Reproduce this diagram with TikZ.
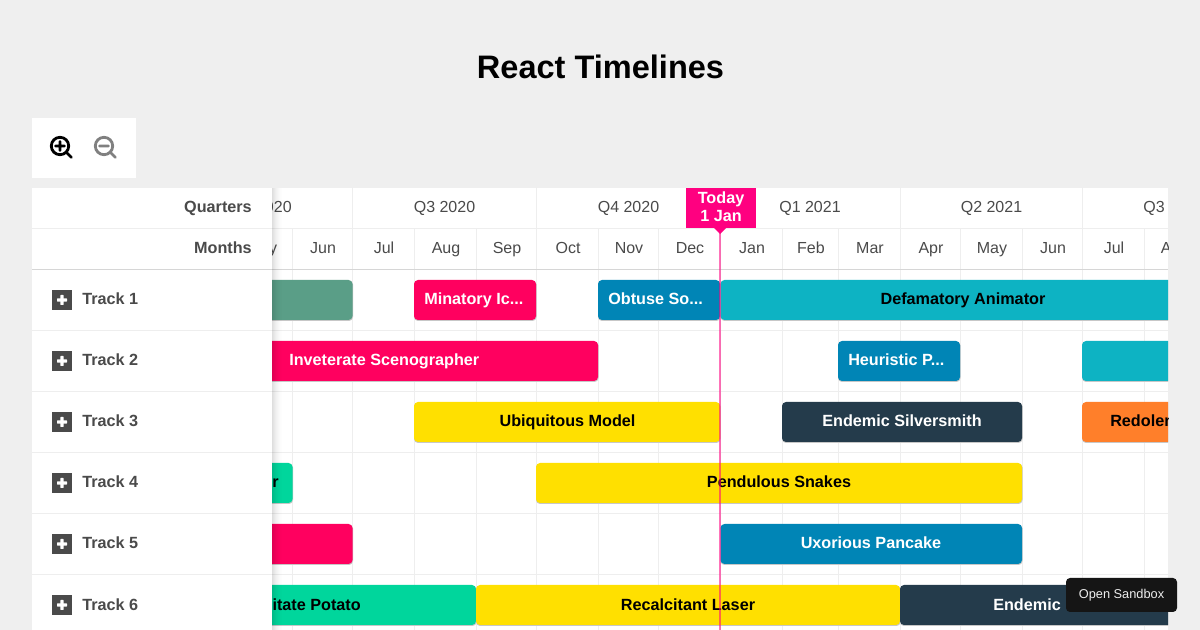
\documentclass[tikz,border=0pt]{standalone}
\usepackage{fontspec}
\setmainfont{Liberation Sans}
\definecolor{pagebg}{HTML}{EFEFEF}
\definecolor{gridc}{HTML}{EEEEEE}
\definecolor{headline}{HTML}{D6D6D6}
\definecolor{labelc}{HTML}{4A4A4A}
\definecolor{pinkbar}{HTML}{FF005F}
\definecolor{bluebar}{HTML}{0085B6}
\definecolor{tealbar}{HTML}{0DB3C3}
\definecolor{sagebar}{HTML}{5A9E87}
\definecolor{darkbar}{HTML}{243B4B}
\definecolor{orangebar}{HTML}{FF7F2A}
\definecolor{yellowbar}{HTML}{FFE000}
\definecolor{greenbar}{HTML}{00D69C}
\definecolor{todayc}{HTML}{FF0080}
\definecolor{sandboxc}{HTML}{151515}
\tikzset{
  hdrtext/.style={anchor=base,inner sep=0pt,text=labelc,font=\fontsize{12}{14}\selectfont},
  sidetext/.style={inner sep=0pt,text=labelc,font=\fontsize{12.15}{14}\selectfont\bfseries},
  bartext/.style={anchor=base,inner sep=0pt,font=\fontsize{12.15}{14}\selectfont\bfseries},
  gridline/.style={draw=gridc,line width=0.75pt},
  zoomicon/.style={line width=2.1pt,line cap=round},
}
% x1, x2, top y, fill
\newcommand{\timebar}[4]{%
  \fill[black!22,rounded corners=3pt] (#1,#3+0.5) rectangle (#2+0.5,#3+41);
  \fill[#4,rounded corners=3pt] (#1,#3) rectangle (#2,#3+40);
}
\begin{document}
\begin{tikzpicture}[x=0.75pt,y=-0.75pt]
\useasboundingbox (0,0) rectangle (1200,630);
\fill[pagebg] (0,0) rectangle (1200,630);
\node[anchor=base,inner sep=0pt,font=\fontsize{24.4}{28}\selectfont\bfseries] (title) at (600.5,78.5) {React Timelines};

% zoom panel
\fill[white] (32,118) rectangle (136,178);
\draw[zoomicon,black] (60,146) circle (8.7) (67,153) -- (71.5,157.5) (55.5,146) -- (64.5,146) (60,141.5) -- (60,150.5);
\draw[zoomicon,black!50] (104,146) circle (8.7) (111,153) -- (115.5,157.5) (99.5,146) -- (108.5,146);

% timeline area
\begin{scope}
\clip (272,188) rectangle (1168,630);
\fill[white] (272,188) rectangle (1168,630);
\foreach \qx in {352.5,536.5,720,900.5,1082.5}
  \draw[gridline] (\qx,188) -- (\qx,228.5);
\foreach \mx in {292.5,352.5,414.5,476.5,536.5,598.5,658.5,720.5,782.5,838.5,900.5,960.5,1022.5,1082.5,1144.5}
  \draw[gridline] (\mx,228.5) -- (\mx,630);
\draw[gridline] (272,228.5) -- (1168,228.5);
\foreach \ry in {330.5,391.5,452.5,513.5,574.5}
  \draw[gridline] (272,\ry) -- (1168,\ry);
\draw[draw=headline,line width=0.75pt] (272,269.5) -- (1168,269.5);

\node[hdrtext] (q1) at (261,213) {Q2 2020};
\node[hdrtext] (q2) at (444.5,213) {Q3 2020};
\node[hdrtext] (q3) at (628.5,213) {Q4 2020};
\node[hdrtext] (q4) at (810,213) {Q1 2021};
\node[hdrtext] (q5) at (991.5,213) {Q2 2021};
\node[hdrtext] (q6) at (1174,213) {Q3 2021};

\node[hdrtext] (m0) at (262,254) {May};
\node[hdrtext] (m1) at (323,254) {Jun};
\node[hdrtext] (m2) at (384,254) {Jul};
\node[hdrtext] (m3) at (446,254) {Aug};
\node[hdrtext] (m4) at (507,254) {Sep};
\node[hdrtext] (m5) at (568,254) {Oct};
\node[hdrtext] (m6) at (629,254) {Nov};
\node[hdrtext] (m7) at (690,254) {Dec};
\node[hdrtext] (m8) at (752,254) {Jan};
\node[hdrtext] (m9) at (811,254) {Feb};
\node[hdrtext] (m10) at (870,254) {Mar};
\node[hdrtext] (m11) at (931,254) {Apr};
\node[hdrtext] (m12) at (992,254) {May};
\node[hdrtext] (m13) at (1053,254) {Jun};
\node[hdrtext] (m14) at (1114,254) {Jul};
\node[hdrtext] (m15) at (1175,254) {Aug};

% bars
\timebar{200}{352.5}{280}{sagebar}
\timebar{414}{536}{280}{pinkbar}
\timebar{598}{720}{280}{bluebar}
\timebar{720.5}{1300}{280}{tealbar}
\timebar{200}{598}{341}{pinkbar}
\timebar{838}{960}{341}{bluebar}
\timebar{1082}{1300}{341}{tealbar}
\timebar{414}{720}{402}{yellowbar}
\timebar{782}{1022}{402}{darkbar}
\timebar{1082}{1300}{402}{orangebar}
\timebar{200}{292.5}{463}{greenbar}
\timebar{536}{1022}{463}{yellowbar}
\timebar{200}{352.5}{524}{pinkbar}
\timebar{720.5}{1022}{524}{bluebar}
\timebar{200}{476}{585}{greenbar}
\timebar{476}{900}{585}{yellowbar}
\timebar{900}{1300}{585}{darkbar}

\node[bartext,text=white,anchor=base west] (b1) at (424,305) {Minatory Ic...};
\node[bartext,text=white,anchor=base west] (b2) at (608,305) {Obtuse So...};
\node[bartext,text=black] (b3) at (963,305) {Defamatory Animator};
\node[bartext,text=white,anchor=base west] (b4) at (289,366) {Inveterate Scenographer};
\node[bartext,text=white,anchor=base west] (b5) at (848,366) {Heuristic P...};
\node[bartext,text=black] (b6) at (567.5,427) {Ubiquitous Model};
\node[bartext,text=white] (b7) at (902,427) {Endemic Silversmith};
\node[bartext,text=black,anchor=base west] (b8) at (1110,427) {Redolent};
\node[bartext,text=black,anchor=base east] (b9) at (279,488) {r};
\node[bartext,text=black] (b10) at (779,488) {Pendulous Snakes};
\node[bartext,text=white] (b11) at (871,549) {Uxorious Pancake};
\node[bartext,text=black,anchor=base east] (b12) at (361,610) {Precipitate Potato};
\node[bartext,text=black] (b13) at (688,610) {Recalcitant Laser};
\node[bartext,text=white,anchor=base west] (b14) at (993,610) {Endemic};
\end{scope}

% today marker
\coordinate (todaytop) at (720,228);
\coordinate (todayend) at (720,630);
\draw[todayc,opacity=0.55,line width=1.5pt] (todaytop) -- (todayend);
\fill[todayc] (686,188) rectangle (756,228);
\fill[todayc] (714,228) -- (726,228) -- (720,234) -- cycle;
\node[bartext,text=white] (today1) at (721,204) {Today};
\node[bartext,text=white] (today2) at (721,222) {1 Jan};

% sidebar shadow and panel
\foreach \i/\o in {0/.13,1/.11,2/.09,3/.07,4/.055,5/.042,6/.03,7/.02,8/.012,9/.006}
  \fill[black,opacity=\o] (272+\i,188) rectangle (273+\i,630);
\fill[white] (32,188) rectangle (272,630);
\draw[gridline] (32,228.5) -- (272,228.5);
\draw[draw=headline,line width=0.75pt] (32,269.5) -- (272,269.5);
\foreach \ry in {330.5,391.5,452.5,513.5,574.5}
  \draw[gridline] (32,\ry) -- (272,\ry);
\node[sidetext,anchor=base east] (lq) at (252,213) {Quarters};
\node[sidetext,anchor=base east] (lm) at (252,254) {Months};
\foreach \n/\cy in {1/300,2/361,3/422,4/483,5/544,6/605}{
  \fill[labelc] (52,\cy-10) rectangle (72,\cy+10);
  \fill[white,rounded corners=0.4pt] (57,\cy-1.6) rectangle (67,\cy+1.6);
  \fill[white,rounded corners=0.4pt] (60.4,\cy-5) rectangle (63.6,\cy+5);
  \node[sidetext,anchor=base west] (t\n) at (82,\cy+5) {Track \n};
}

% sandbox button
\fill[sandboxc,rounded corners=3pt] (1066,578) rectangle (1177,612);
\node[anchor=base,inner sep=0pt,text=white,opacity=.92,font=\fontsize{9.6}{12}\selectfont] (sand) at (1121.5,599) {Open Sandbox};
\end{tikzpicture}
\end{document}
